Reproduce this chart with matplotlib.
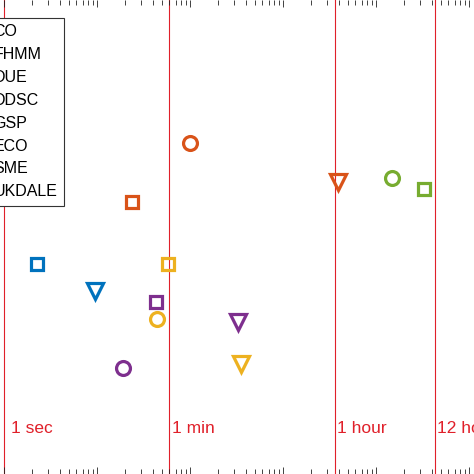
import numpy as np
import matplotlib.pyplot as plt
import matplotlib.ticker as mticker
from matplotlib.lines import Line2D
from matplotlib.transforms import offset_copy

plt.rcParams['font.family'] = ['Liberation Sans', 'DejaVu Sans']

# colours = algorithms, marker shapes = datasets
algorithms = ['CO', 'FHMM', 'DUE', 'DDSC', 'GSP']
algo_colors = ['#0072BD', '#D95319', '#EDB120', '#7E2F8E', '#77AC30']
datasets = ['ECO', 'SME', 'UKDALE']
dataset_markers = ['o', 's', 'v']

# runtime in seconds (x) and score (y) per algorithm / dataset (nan = missing)
runtime = {
    'CO':   [np.nan, 2.26, 9.5],
    'FHMM': [100, 23.8, 3900],
    'DUE':  [44.2, 58, 353],
    'DDSC': [19, 43.1, 328],
    'GSP':  [14860, 32800, np.nan],
}
score = {
    'CO':   [np.nan, 0.443, 0.386],
    'FHMM': [0.698, 0.574, 0.616],
    'DUE':  [0.327, 0.443, 0.232],
    'DDSC': [0.224, 0.363, 0.321],
    'GSP':  [0.624, 0.601, np.nan],
}

# reference time marks
mark_seconds = [1, 60, 3600, 43200]
mark_labels = ['1 sec', '1 min', '1 hour', '12 hours']
mark_text_offset = [5, 2, 1.5, 1.5]

marker_size = {'o': 10, 's': 8, 'v': 12}

fig = plt.figure(figsize=(4.74, 4.74), dpi=100)
ax = fig.add_axes([0, 0, 1, 1])
ax.set_xscale('log')
ax.set_xlim(0.906, 113200)
ax.set_ylim(0, 1)

red = '#E0202A'
for xs, lab, off in zip(mark_seconds, mark_labels, mark_text_offset):
    ax.axvline(xs, color=red, lw=0.8, zorder=1)
    tr = offset_copy(ax.transData, fig=fig, x=off, y=0, units='points')
    ax.text(xs, 0.097, lab, color=red, fontsize=12.5, ha='left', va='center',
            transform=tr)

for name, col in zip(algorithms, algo_colors):
    for k, mk in enumerate(dataset_markers):
        if np.isnan(runtime[name][k]):
            continue
        ax.plot(runtime[name][k], score[name][k], marker=mk, linestyle='none',
                markersize=marker_size[mk], markerfacecolor='none',
                markeredgecolor=col, markeredgewidth=2.3, zorder=3)

for sp in ax.spines.values():
    sp.set_visible(False)
ax.xaxis.set_major_locator(mticker.LogLocator(base=10))
ax.xaxis.set_minor_locator(mticker.LogLocator(base=10, subs=np.arange(2, 10)))
ax.xaxis.set_major_formatter(mticker.NullFormatter())
ax.xaxis.set_minor_formatter(mticker.NullFormatter())
ax.tick_params(axis='x', which='both', direction='in', top=True, bottom=True,
               width=0.6, color='#222222')
ax.tick_params(axis='x', which='major', length=5)
ax.tick_params(axis='x', which='minor', length=3.5)
ax.set_yticks([])

handles = [Line2D([], [], color=c, lw=2) for c in algo_colors]
handles += [Line2D([], [], marker=m, color='k', linestyle='none',
                   markerfacecolor='none') for m in dataset_markers]
leg = ax.legend(handles, algorithms + datasets, loc='upper right',
                bbox_to_anchor=(64 / 474, 1 - 18 / 474),
                bbox_transform=fig.transFigure, borderaxespad=0,
                fontsize=11.5, labelspacing=0.49, borderpad=0.4,
                fancybox=False, framealpha=1, edgecolor='#333333')
leg.get_frame().set_linewidth(0.8)

fig.savefig('out.png', dpi=100)
